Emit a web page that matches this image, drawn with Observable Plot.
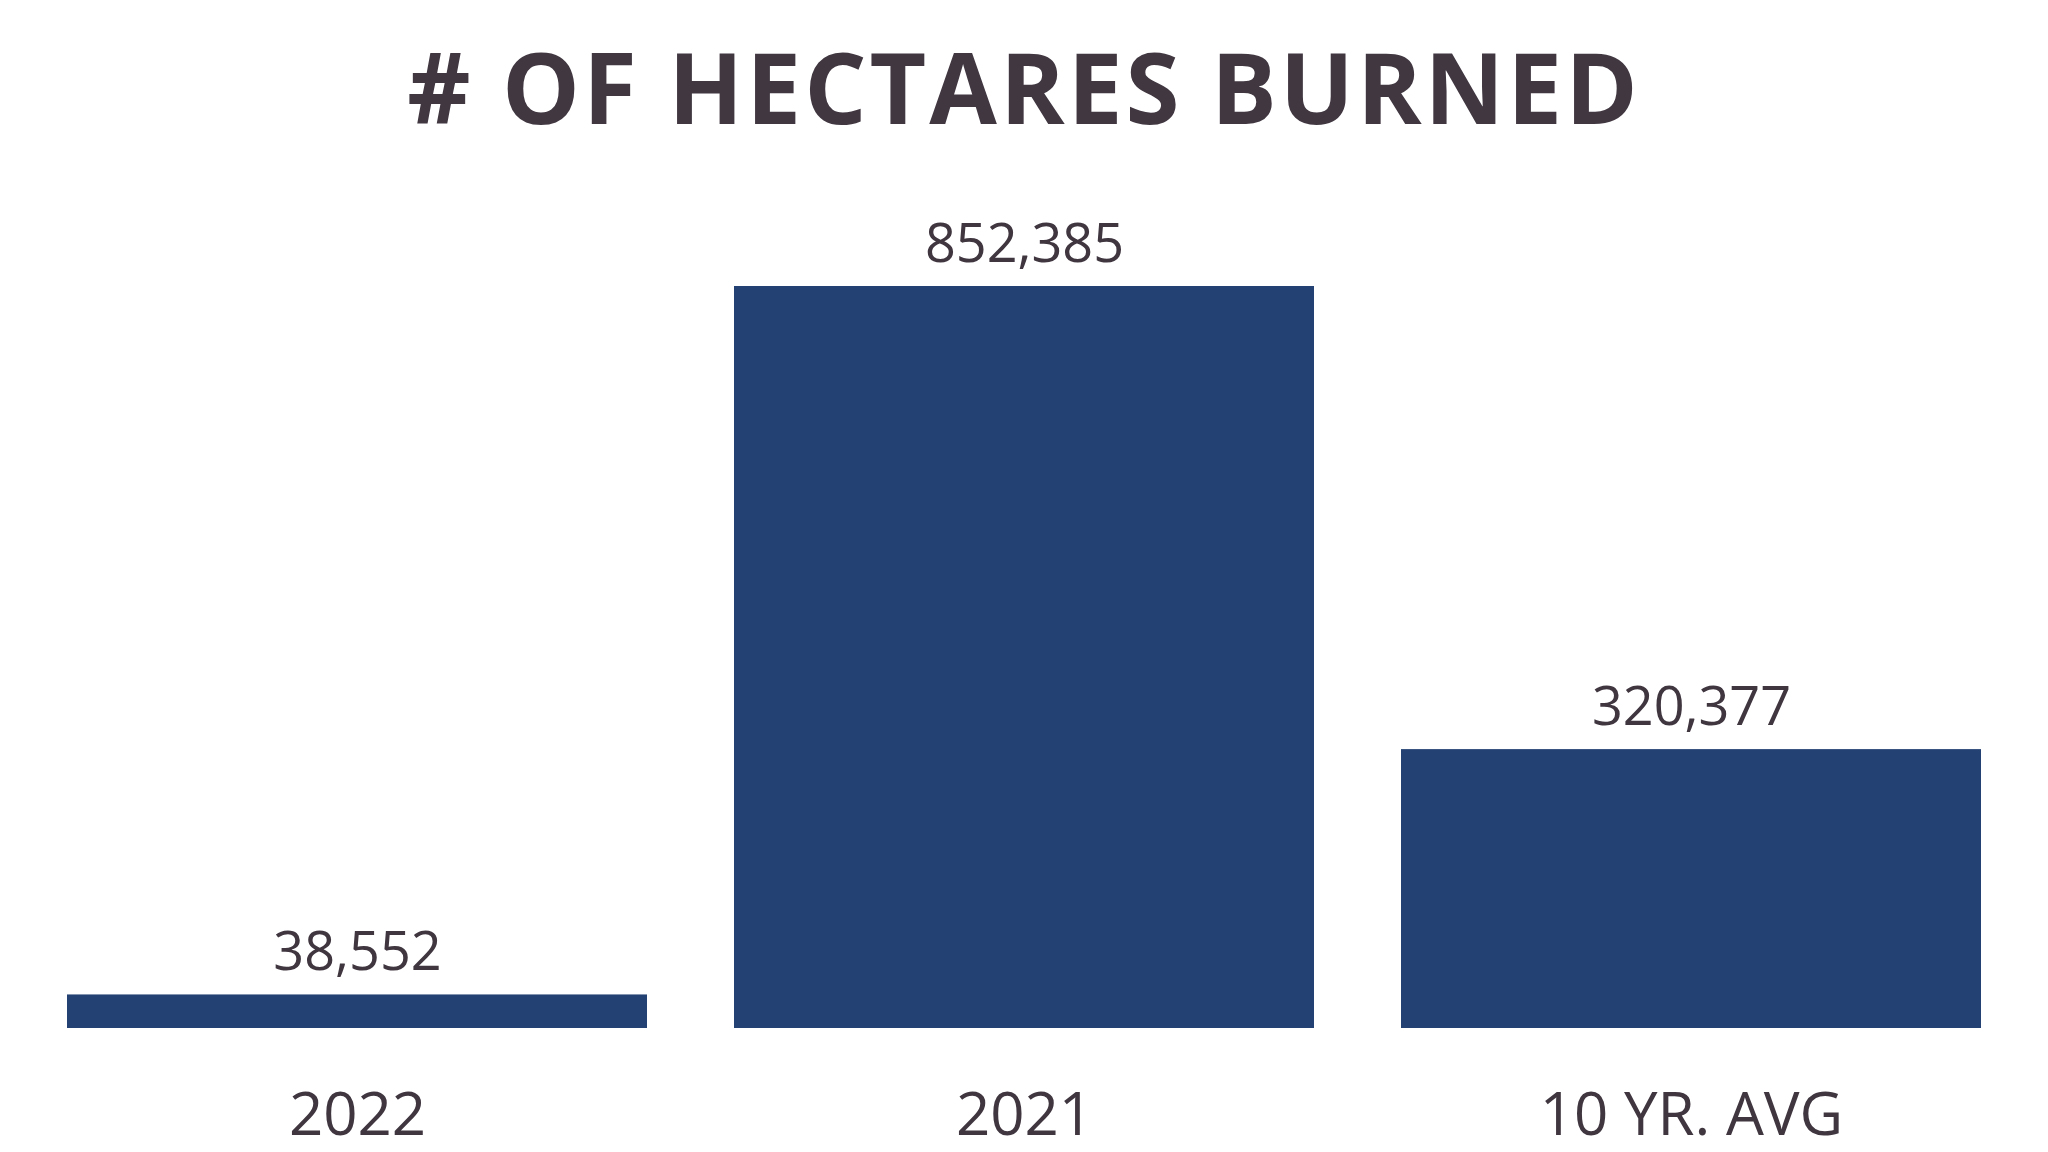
<!DOCTYPE html>
<html>
<head>
<meta charset="utf-8">
<script src="https://cdn.jsdelivr.net/npm/d3@7"></script>
<script src="https://cdn.jsdelivr.net/npm/@observablehq/plot@0.6"></script>
<style>
  html, body { margin: 0; padding: 0; background: #fff; }
  body { width: 2048px; height: 1152px; overflow: hidden; }
  #title {
    height: 150px;
    box-sizing: border-box;
    padding-top: 18px;
    text-align: center;
    font-family: "Open Sans", sans-serif;
    font-weight: 700;
    font-size: 98px;
    line-height: 136px;
    color: #403740;
    letter-spacing: 3px;
    white-space: nowrap;
  }
  #chart svg { display: block; }
</style>
</head>
<body>
<div id="title"># OF HECTARES BURNED</div>
<div id="chart"></div>
<script>
const categories = ["2022", "2021", "10 YR. AVG"];
const hectares = [38552, 852385, 320377];

const data = categories.map((c, i) => ({category: c, value: hectares[i]}));
const fmt = d3.format(",");

const chart = Plot.plot({
  width: 2048,
  height: 1002,
  marginLeft: 67,
  marginRight: 66,
  marginTop: 136,
  marginBottom: 124,
  style: {
    fontFamily: "Open Sans, sans-serif",
    color: "#3f363f",
    background: "#ffffff"
  },
  x: {domain: categories, paddingInner: 0.13, paddingOuter: 0, label: null},
  y: {domain: [0, d3.max(hectares)], axis: null},
  marks: [
    Plot.barY(data, {x: "category", y: "value", fill: "#234173"}),
    Plot.text(data, {
      x: "category", y: "value", text: d => fmt(d.value),
      fontSize: 54, fontWeight: 400, fill: "#3f363f", dy: -42
    }),
    Plot.axisX({
      tickSize: 0, tickPadding: 64, fontSize: 60, fontWeight: 400,
      fill: "#3f363f", label: null
    })
  ]
});
document.getElementById("chart").appendChild(chart);
</script>
</body>
</html>
